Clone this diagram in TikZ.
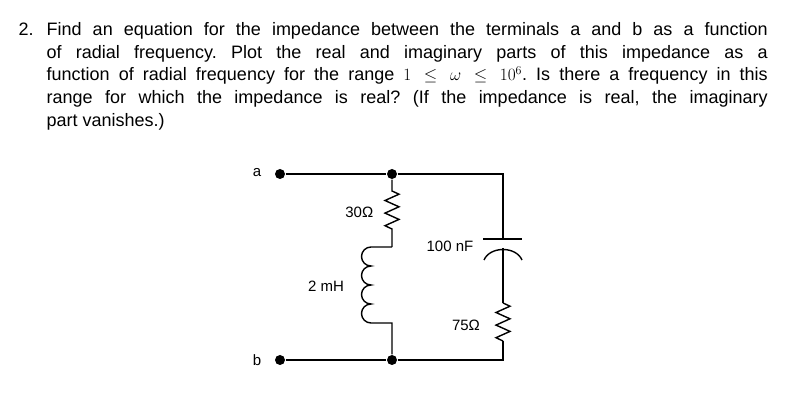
\documentclass[tikz,border=0pt]{standalone}
\usepackage{fontspec}
\setmainfont{Liberation Sans}
\begin{document}
\begin{tikzpicture}[x=1pt,y=1pt,line width=1.4pt,
  dot/.style={circle,fill,inner sep=0pt,minimum size=10pt},
  lbl/.style={font=\fontsize{15}{17}\selectfont,inner sep=0pt}]
\useasboundingbox (0,0) rectangle (788,418);
\node[anchor=north west,inner sep=0pt,font=\fontsize{18}{22.6}\selectfont] (num) at (18,396) {2.};
\node[anchor=north west,inner sep=0pt,text width=721pt,align=justify,font=\fontsize{18}{22.6}\selectfont] (txt) at (46,396)
 {\frenchspacing\hyphenpenalty=10000 Find an equation for the impedance between the terminals a and b as a function\linebreak of radial frequency. Plot the real and imaginary parts of this impedance as a\linebreak function of radial frequency for the range $1\le\omega\le10^6$. Is there a frequency in this\linebreak range for which the impedance is real? (If the impedance is real, the imaginary\linebreak part vanishes.)};
% nodes
\node[dot] (a) at (280,244) {};
\node[dot] (b) at (280,58) {};
\node[dot] (ja) at (392,244) {};
\node[dot] (jb) at (392,58) {};
\coordinate (tr) at (503,244);
\coordinate (br) at (503,58);
\coordinate (r1t) at (392,227);
\coordinate (r1b) at (392,189);
\coordinate (lt) at (392,171);
\coordinate (lb) at (392,95);
\coordinate (ct) at (503,179);
\coordinate (cb) at (503,170);
\coordinate (r2t) at (503,115);
\coordinate (r2b) at (503,77);
\node[lbl] (la) at (257,245) {a};
\node[lbl] (lbb) at (257,58) {b};
\draw (a) -- (ja) -- (tr) -- (ct);
\draw (b) -- (jb) -- (br) -- (r2b);
\draw (ja) -- (r1t) -- ++(7,-3.2) -- ++(-14,-6.3) -- ++(14,-6.3) -- ++(-14,-6.3) -- ++(14,-6.3) -- ++(-14,-6.3) -- (r1b) -- (lt);
\draw (lt) -- (371,171) arc(90:270:9.5) arc(90:270:9.5) arc(90:270:9.5) arc(90:270:9.5) -- (lb) -- (jb);
\draw (r2t) -- ++(7,-3.2) -- ++(-14,-6.3) -- ++(14,-6.3) -- ++(-14,-6.3) -- ++(14,-6.3) -- ++(-14,-6.3) -- (r2b);
\draw (483,179) -- (522,179);
\draw (484,158) .. controls (490,172) and (516,172) .. (522,158);
\draw (cb) -- (r2t);
\node[lbl,anchor=east] (l30) at (374,206) {30Ω};
\node[lbl] (l2m) at (326,132) {2 mH};
\node[lbl] (l100) at (450,172) {100 nF};
\node[lbl] (l75) at (466,93) {75Ω};
\end{tikzpicture}
\end{document}
